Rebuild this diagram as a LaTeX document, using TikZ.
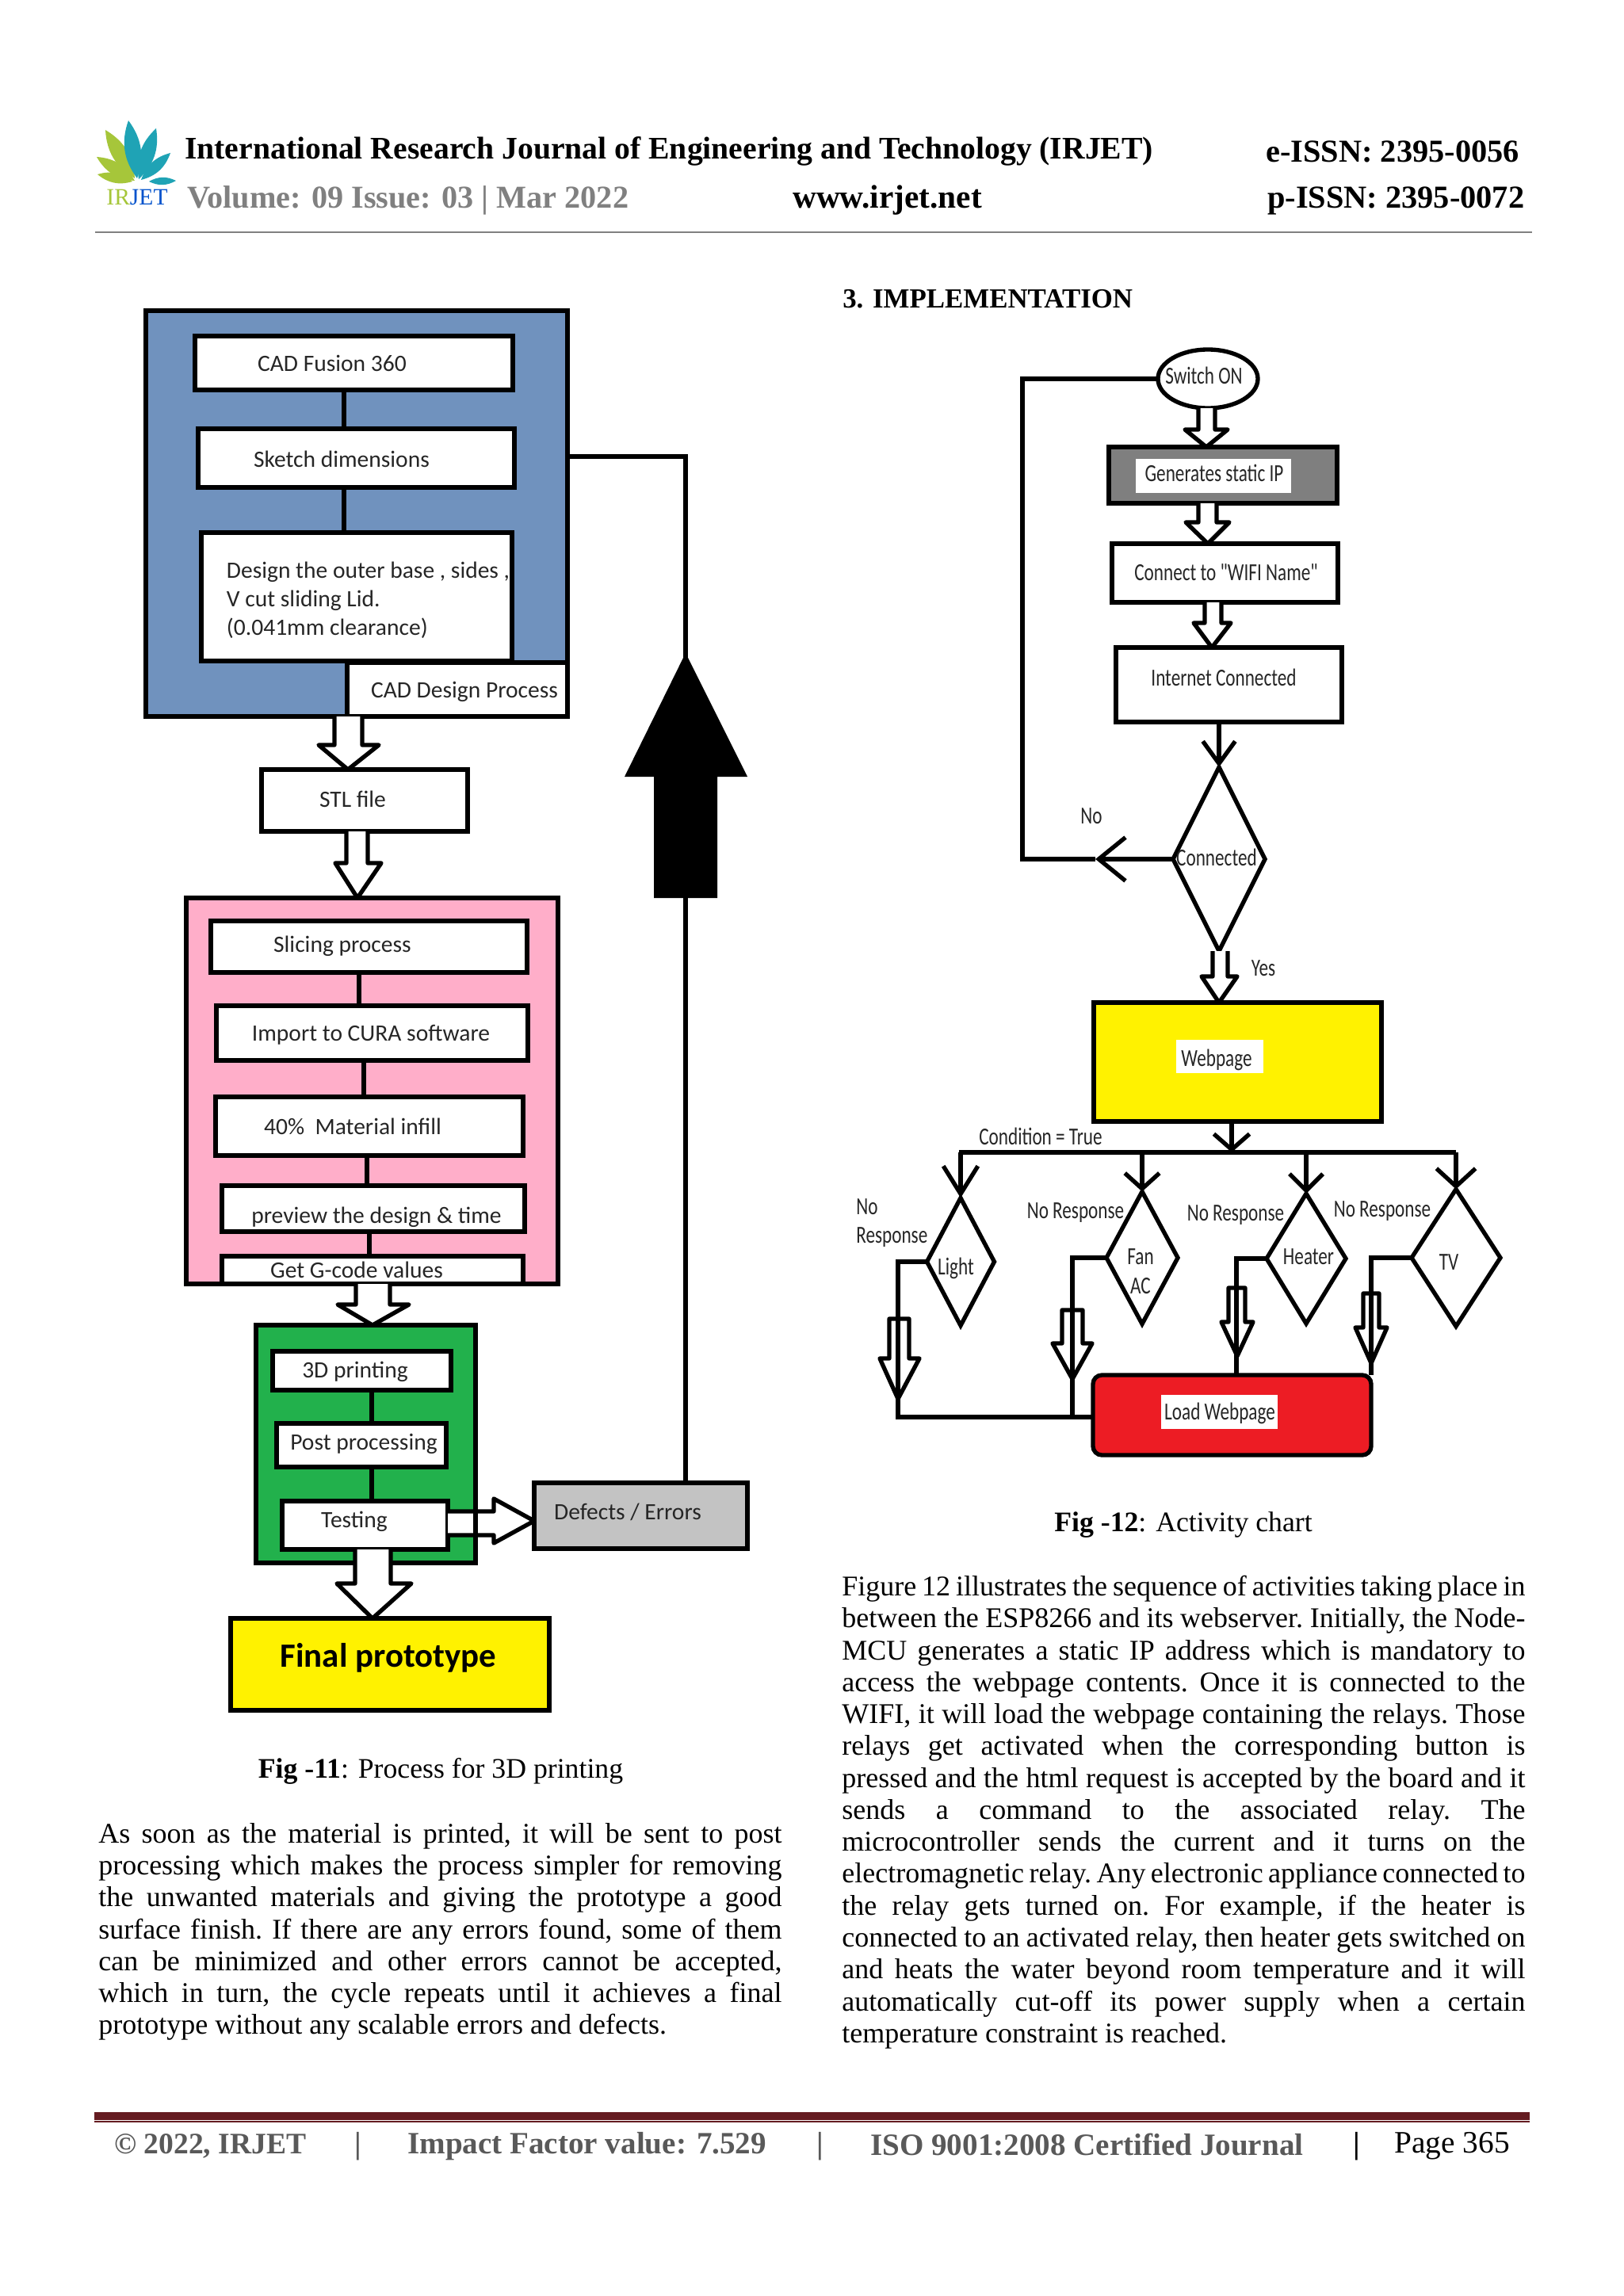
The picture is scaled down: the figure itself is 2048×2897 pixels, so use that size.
\documentclass[tikz,border=0pt]{standalone}
\usepackage{fontspec}
\setmainfont{Liberation Serif}
\newfontfamily\procfont{Carlito}
\newfontfamily\chartfont[FakeStretch=0.75]{Carlito}
\usetikzlibrary{arrows.meta,fit,shapes.geometric}
\newcommand{\jl}[1]{\makebox[21.55cm][s]{#1}}
\definecolor{cadblue}{HTML}{7092BE}
\definecolor{slicepink}{HTML}{FFAEC9}
\definecolor{printgreen}{HTML}{22B14C}
\definecolor{markyellow}{HTML}{FFF200}
\definecolor{defectgrey}{HTML}{C3C3C3}
\definecolor{ipgrey}{HTML}{7F7F7F}
\definecolor{loadred}{HTML}{ED1C24}
\definecolor{footerred}{HTML}{651C21}
\definecolor{footgrey}{HTML}{595959}
\definecolor{leaflime}{HTML}{A6C63A}
\definecolor{leafteal}{HTML}{1FA3B5}
\tikzset{
	box/.style={draw,line width=4.2pt,inner sep=0pt,outer sep=0pt},
	rbox/.style={box,line width=3.8pt},
	link/.style={line width=4.2pt},
	rlink/.style={line width=3.8pt},
	wide/.style={draw,line width=3.8pt,fill=white,line join=round},
	dims/.style 2 args={minimum width=#1*0.025cm,minimum height=#2*0.025cm},
	dia/.style={rbox,diamond},
	barb/.style 2 args={-{Straight Barb[length=#1pt,width=#2pt]}},
	proc/.style={font=\procfont\fontsize{21}{25.6}\selectfont,text=black!85,yshift=-0.6pt},
	chart/.style={font=\chartfont\fontsize{22}{26}\selectfont,text=black!85},
	para/.style={font=\frenchspacing\fontsize{25.6}{28.63}\selectfont,align=left,inner sep=0pt,anchor=north west},
	capt/.style={font=\fontsize{25.4}{28}\selectfont,inner sep=0pt},
	head/.style={font=\bfseries\fontsize{28.2}{30}\selectfont,inner sep=0pt,anchor=west},
	foot/.style={font=\bfseries\fontsize{27.8}{30}\selectfont,text=footgrey,inner sep=0pt,anchor=west},
}
\begin{document}
\begin{tikzpicture}[x=0.025cm,y=-0.025cm]
	\useasboundingbox (0,0) rectangle (2048,2897);
	\fill[white] (0,0) rectangle (2048,2897);

	% header
	\foreach \tipx/\tipy/\basex/\basey/\col in {133/164/170/225/leaflime,122/198/170/228/leaflime,123/220/167/229/leaflime,162/152/173/225/leafteal,197/162/175/226/leafteal,215/193/178/227/leafteal,222/228/188/229/leafteal}
		\fill[\col] (\tipx,\tipy) to[bend left=28] (\basex,\basey) to[bend left=28] (\tipx,\tipy);
	\node[inner sep=0pt,font=\fontsize{21}{24}\selectfont] (logoText) at (173,249) {\textcolor{leaflime}{IR}\textcolor{blue!60!cyan!80!black}{JET}};
	\node[head] (journal) at (233,191) {International Research Journal of Engineering and Technology (IRJET)};
	\node[head,font=\bfseries\fontsize{28.6}{30}\selectfont,text=gray] (volume) at (236,253) {Volume: 09 Issue: 03 | Mar 2022};
	\node[head,font=\bfseries\fontsize{29.4}{30}\selectfont] (site) at (1000,253) {www.irjet.net};
	\node[head,font=\bfseries\fontsize{28.7}{30}\selectfont] (eissn) at (1597,191) {e-ISSN: 2395-0056};
	\node[head,font=\bfseries\fontsize{28.7}{30}\selectfont] (pissn) at (1599,253) {p-ISSN: 2395-0072};
	\draw[gray,line width=2pt] (120,293) -- (1933,293);
	\node[head,font=\bfseries\fontsize{24.8}{30}\selectfont] (section) at (1063,377) {3. IMPLEMENTATION};

	% left chart, blue block
	\node[box,fill=cadblue,fit={(184,392) (716,904)}] (blue) {};
	\node[box,fill=white,fit={(246,424) (647,492)}] (fusion) {};
	\node[box,fill=white,fit={(250,541) (649,615)}] (sketch) {};
	\node[box,fill=white,fit={(254,672) (646,834)}] (outer) {};
	\node[box,fill=white,fit={(438,836) (716,904)}] (cadproc) {};
	\draw[link] (434,0 |- fusion.south) -- (434,0 |- sketch.north);
	\draw[link] (434,0 |- sketch.south) -- (434,0 |- outer.north);
	\node[proc] (fusionText) at (419,458) {CAD Fusion 360};
	\node[proc] (sketchText) at (431,579) {Sketch dimensions};
	\node[proc,align=left,anchor=north west] (outerText) at (281,703) {Design the outer base , sides ,\\V cut sliding Lid.\\(0.041mm clearance)};
	\node[proc] (cadprocText) at (586,872) {CAD Design Process};

	\node[box,fill=white,fit={(330,971) (590,1049)}] (stl) {};
	\node[proc] (stlText) at (445,1007) {STL file};

	% pink block
	\node[box,fill=slicepink,fit={(235,1133) (704,1620)}] (pink) {};
	\node[box,fill=white,fit={(266,1162) (665,1227)}] (slicing) {};
	\node[box,fill=white,fit={(273,1269) (666,1338)}] (cura) {};
	\node[box,fill=white,fit={(272,1384) (660,1458)}] (infill) {};
	\node[box,fill=white,fit={(280,1496) (662,1554)}] (preview) {};
	\node[box,fill=white,fit={(280,1585) (660,1620)}] (gcode) {};
	\draw[link] (453,0 |- slicing.south) -- (453,0 |- cura.north);
	\draw[link] (459,0 |- cura.south) -- (459,0 |- infill.north);
	\draw[link] (463,0 |- infill.south) -- (463,0 |- preview.north);
	\draw[link] (466,0 |- preview.south) -- (466,0 |- gcode.north);
	\node[proc] (slicingText) at (432,1193) {Slicing process};
	\node[proc] (curaText) at (468,1305) {Import to CURA software};
	\node[proc] (infillText) at (445,1421) {40\%\ \ Material infill};
	\node[proc] (previewText) at (475,1535) {preview the design \& time};
	\node[proc] (gcodeText) at (450,1601) {Get G-code values};

	% green block
	\node[box,fill=printgreen,fit={(323,1672) (600,1972)}] (green) {};
	\node[box,fill=white,fit={(344,1705) (569,1754)}] (printing) {};
	\node[box,fill=white,fit={(349,1796) (563,1851)}] (post) {};
	\node[box,fill=white,fit={(356,1894) (565,1955)}] (testing) {};
	\draw[link] (469,0 |- printing.south) -- (469,0 |- post.north);
	\draw[link] (469,0 |- post.south) -- (469,0 |- testing.north);
	\node[proc] (printingText) at (448,1730) {3D printing};
	\node[proc] (postText) at (459,1821) {Post processing};
	\node[proc] (testingText) at (447,1919) {Testing};

	\node[box,fill=markyellow,fit={(291,2042) (693,2158)}] (final) {};
	\node[proc,font=\procfont\bfseries\fontsize{30.5}{34}\selectfont,text=black] (finalText) at (490,2091) {Final prototype};
	\node[box,fill=defectgrey,fit={(674,1871) (943,1954)}] (defects) {};
	\node[proc] (defectsText) at (792,1907) {Defects / Errors};

	% hollow arrows of the left chart
	\foreach \from/\to/\cx/\l/\r/\hd/\wl/\wr in {blue/stl/439/422/457/940/402/478,stl/pink/451/437/464/1089/423/481,pink/green/470/449/492/1646/426/516,testing/final/470/448/493/1998/425/519}
		\draw[wide] (\l,0 |- \from.south) -- (\l,\hd) -- (\wl,\hd) -- (\cx,0 |- \to.north) -- (\wr,\hd) -- (\r,\hd) -- (\r,0 |- \from.south);
	\draw[wide] (testing.east |- 0,1907) -- (623,1907) -- (623,1891) -- (defects.west |- 0,1919) -- (623,1947) -- (623,1937) -- (testing.east |- 0,1937);
	\draw[link] (green.east |- 0,1907) -- (green.east |- 0,1937);

	% feedback line
	\draw[link] (blue.east |- 0,576) -- (865,576) -- (865,0 |- defects.north);
	\fill[black,line join=round] (865,824) -- (943,980) -- (905,980) -- (905,1133) -- (825,1133) -- (825,980) -- (788,980) -- cycle;

	% right chart
	\node[rbox,ellipse,dims={126}{74}] (switch) at (1524,478) {};
	\node[chart] (switchText) at (1519,474) {Switch ON};
	\node[rbox,fill=ipgrey,fit={(1399,564) (1687,635)}] (staticip) {};
	\fill[white] (1433,579) rectangle (1629,622);
	\node[chart] (staticipText) at (1532,597) {Generates static IP};
	\node[rbox,fit={(1403,686) (1688,760)}] (wifi) {};
	\node[chart] (wifiText) at (1547,722) {Connect to "WIFI Name"};
	\node[rbox,fit={(1408,817) (1693,911)}] (internet) {};
	\node[chart] (internetText) at (1544,855) {Internet Connected};
	\node[dia,dims={116}{232}] (connected) at (1538,1084) {};
	\node[chart] (connectedText) at (1535,1082) {Connected};
	\node[chart] (noText) at (1377,1030) {No};
	\node[chart] (yesText) at (1594,1222) {Yes};
	\node[rbox,fill=markyellow,fit={(1380,1265) (1743,1415)}] (webpage) {};
	\fill[white] (1484,1312) rectangle (1594,1354);
	\node[chart] (webpageText) at (1535,1337) {Webpage};
	\node[chart] (conditionText) at (1313,1434) {Condition = True};

	\foreach \from/\to/\cx/\l/\r/\hd/\wl/\wr in {switch/staticip/1522/1512/1533/542/1495/1549,staticip/wifi/1524/1512/1535/659/1496/1551,wifi/internet/1529/1520/1541/786/1506/1553,connected/webpage/1538/1530/1549/1232/1516/1561}
		\draw[wide] (\l,0 |- \from.south) -- (\l,\hd) -- (\wl,\hd) -- (\cx,0 |- \to.north) -- (\wr,\hd) -- (\r,\hd) -- (\r,0 |- \from.south);

	\coordinate (noTip) at (1382,1084);
	\draw[rlink,barb={24}{39}] (connected.west) -- (noTip);
	\draw[rlink] (noTip) -- (1290,1084) |- (switch.west);
	\draw[rlink,barb={20}{29}] (connected.north |- internet.south) -- (connected.north);

	\coordinate (busTop) at (1554,1454);
	\draw[rlink,barb={14}{32}] (busTop |- webpage.south) -- (busTop);
	\draw[rlink] (1210,1454) -- (1837,1454);

	% the four appliances
	\node[dia,dims={85}{161}] (light) at (1212,1592) {};
	\node[dia,dims={90}{167}] (fan) at (1441,1587) {};
	\node[dia,dims={100}{164}] (heater) at (1648,1588) {};
	\node[dia,dims={112}{173}] (tv) at (1837,1587) {};
	\foreach \name/\len/\wid in {light/25/31,fan/14/31,heater/15/30,tv/16/35}
		\draw[rlink,barb={\len}{\wid}] (\name.north |- busTop) -- (\name.north);
	\node[chart] (lightText) at (1206,1600) {Light};
	\node[chart,align=center] (fanText) at (1439,1604) {Fan\\AC};
	\node[chart] (heaterText) at (1651,1586) {Heater};
	\node[chart] (tvText) at (1828,1593) {TV};
	\node[chart,align=left,anchor=north west,inner sep=0pt] (respOne) at (1080,1512) {No\\Response};
	\node[chart] (respTwo) at (1357,1530) {No Response};
	\node[chart] (respThree) at (1559,1533) {No Response};
	\node[chart] (respFour) at (1744,1528) {No Response};

	\node[rbox,rounded corners=8pt,fill=loadred,fit={(1379,1735) (1730,1836)}] (load) {};
	\fill[white] (1465,1760) rectangle (1612,1803);
	\node[chart] (loadText) at (1539,1783) {Load Webpage};

	\foreach \l/\r/\top/\hd/\wl/\wr/\cx/\tip in {1122/1147/1664/1714/1110/1160/1133/1765,1340/1366/1653/1695/1328/1378/1353/1740,1550/1571/1625/1668/1541/1581/1561/1711,1720/1740/1632/1675/1710/1750/1730/1720}
		\draw[wide] (\l,\top) -- (\l,\hd) -- (\wl,\hd) -- (\cx,\tip) -- (\wr,\hd) -- (\r,\hd) -- (\r,\top) -- cycle;
	\coordinate (lightDrop) at (1133,1788);
	\coordinate (fanDrop) at (1353,1788);
	\draw[rlink] (light.west) -| (lightDrop) -- (load.west |- lightDrop);
	\draw[rlink] (fan.west) -| (fanDrop);
	\draw[rlink] (heater.west) -| (1560,0 |- load.north);
	\draw[rlink] (tv.west) -| (1730,0 |- load.north);

	% captions and running text
	\node[capt] (captionLeft) at (556,2235) {\textbf{Fig -11}: Process for 3D printing};
	\node[capt] (captionRight) at (1493,1924) {\textbf{Fig -12}: Activity chart};
	\node[para] (textLeft) at (124,2300) {\jl{As soon as the material is printed, it will be sent to post}\\
		\jl{processing which makes the process simpler for removing}\\
		\jl{the unwanted materials and giving the prototype a good}\\
		\jl{surface finish. If there are any errors found, some of them}\\
		\jl{can be minimized and other errors cannot be accepted,}\\
		\jl{which in turn, the cycle repeats until it achieves a final}\\
		prototype without any scalable errors and defects.};
	\node[para] (textRight) at (1062,1988) {\jl{Figure 12 illustrates the sequence of activities taking place in}\\
		\jl{between the ESP8266 and its webserver. Initially, the Node-}\\
		\jl{MCU generates a static IP address which is mandatory to}\\
		\jl{access the webpage contents. Once it is connected to the}\\
		\jl{WIFI, it will load the webpage containing the relays. Those}\\
		\jl{relays get activated when the corresponding button is}\\
		\jl{pressed and the html request is accepted by the board and it}\\
		\jl{sends a command to the associated relay. The}\\
		\jl{microcontroller sends the current and it turns on the}\\
		\jl{electromagnetic relay. Any electronic appliance connected to}\\
		\jl{the relay gets turned on. For example, if the heater is}\\
		\jl{connected to an activated relay, then heater gets switched on}\\
		\jl{and heats the water beyond room temperature and it will}\\
		\jl{automatically cut-off its power supply when a certain}\\
		temperature constraint is reached.};

	% footer
	\draw[footerred,line width=7pt] (119,2670) -- (1930,2670);
	\draw[footerred,line width=1.5pt] (119,2677) -- (1930,2677);
	\node[foot,font=\bfseries\fontsize{26.7}{30}\selectfont] (copyright) at (144,2708) {© 2022, IRJET};
	\node[foot] (barOne) at (447,2708) {|};
	\node[foot] (impact) at (514,2708) {Impact Factor value: 7.529};
	\node[foot] (barTwo) at (1030,2708) {|};
	\node[foot] (iso) at (1098,2706) {ISO 9001:2008 Certified Journal};
	\node[foot,text=black] (barThree) at (1707,2708) {|};
	\node[foot,font=\fontsize{28}{30}\selectfont,text=black] (page) at (1759,2708) {Page 365};
\end{tikzpicture}
\end{document}
